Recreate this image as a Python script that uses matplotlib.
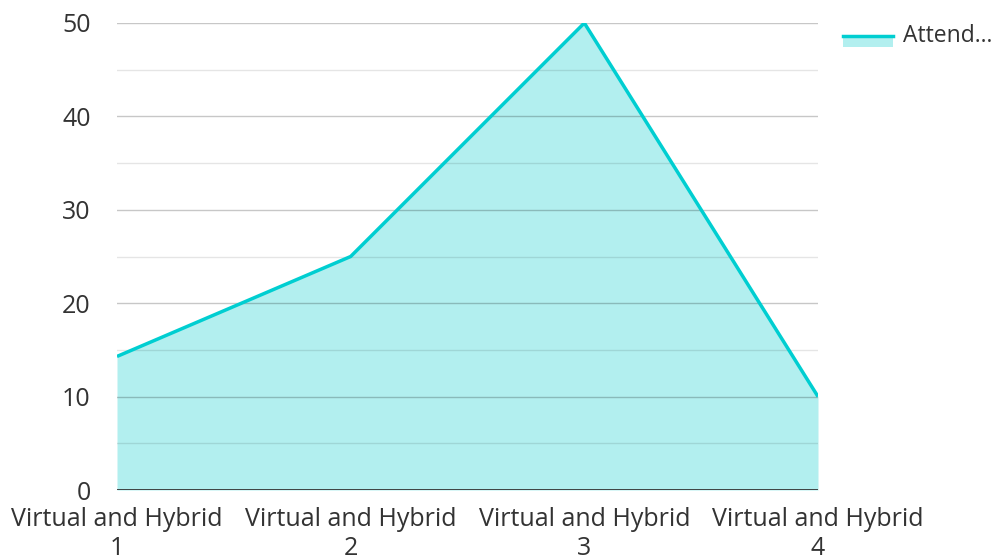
import numpy as np
import matplotlib
matplotlib.use("Agg")
from matplotlib import pyplot as plt
from matplotlib.patches import Rectangle
from matplotlib.lines import Line2D

categories = ["Virtual and Hybrid\n1", "Virtual and Hybrid\n2",
              "Virtual and Hybrid\n3", "Virtual and Hybrid\n4"]
attendance = [14.3, 25, 50, 10]
series_name = "Attend\u2026"
y_ticks = [0, 10, 20, 30, 40, 50]

line_color = "#00CED1"
fill_color = "#B2EFEF"
text_color = "#333333"

plt.rcParams['font.family'] = ['Open Sans', 'DejaVu Sans']

fig = plt.figure(figsize=(10.02, 5.6), dpi=100)
ax = fig.add_axes([117 / 1002, 1 - 490 / 560, (818 - 117) / 1002, (490 - 23) / 560])

x = np.arange(len(categories))
ax.fill_between(x, attendance, 0, color=fill_color, lw=0, zorder=1)
ax.plot(x, attendance, color=line_color, lw=2.5, zorder=3, solid_capstyle='butt')

ax.set_xlim(0, len(categories) - 1)
ax.set_ylim(0, 50)

# gridlines: darker at 10s, lighter at 5s
for v in np.arange(5, 50, 10):
    ax.axhline(v, color="#000000", alpha=0.1, lw=1, zorder=2)
for v in y_ticks[1:]:
    ax.axhline(v, color="#000000", alpha=0.22, lw=1, zorder=2)
ax.axhline(0, color=text_color, lw=2, zorder=4)

ax.set_yticks(y_ticks)
ax.set_yticklabels([str(v) for v in y_ticks])
ax.set_xticks(x)
ax.set_xticklabels(categories, linespacing=1.25)
ax.tick_params(axis='both', length=0, labelsize=18, colors=text_color)
ax.tick_params(axis='y', pad=19)
ax.tick_params(axis='x', pad=12)
for s in ax.spines.values():
    s.set_visible(False)

# legend
fig.add_artist(Rectangle((843 / 1002, 1 - 47 / 560), 50 / 1002, 11 / 560,
                         transform=fig.transFigure, color=fill_color, lw=0))
fig.add_artist(Line2D([843 / 1002, 893 / 1002], [1 - 36 / 560, 1 - 36 / 560],
                      transform=fig.transFigure, color=line_color, lw=2.5))
fig.text(903 / 1002, 1 - 36 / 560, series_name, fontsize=16.5, color=text_color,
         va='center', ha='left')

fig.savefig("out.png", dpi=100)
